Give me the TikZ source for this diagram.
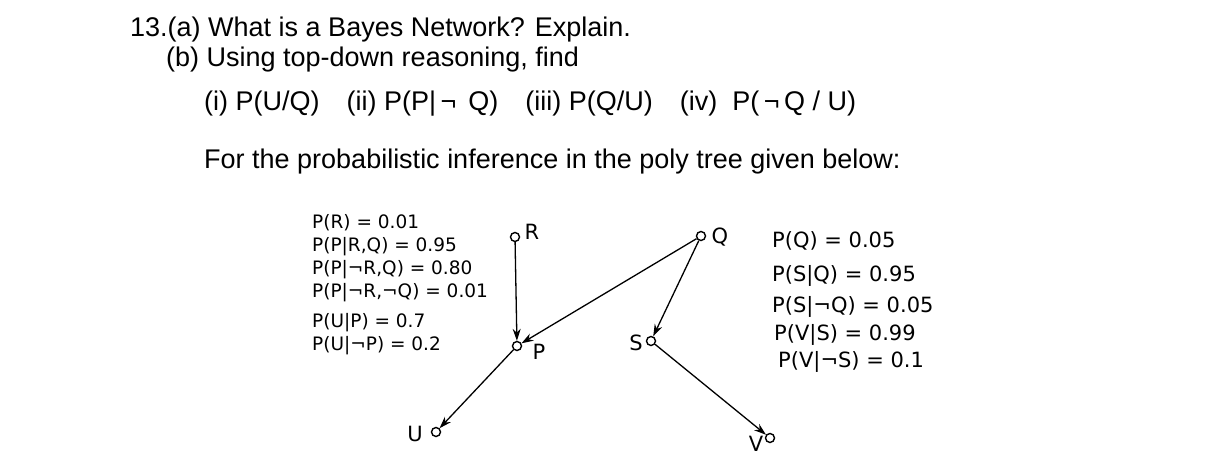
\documentclass[tikz,border=0pt]{standalone}
\usepackage{fontspec}
\setmainfont{Liberation Sans}
\newfontfamily\hand{DejaVu Sans}
\usetikzlibrary{arrows.meta}
\begin{document}
\begin{tikzpicture}[x=1pt,y=-1pt,
  hdr/.style={anchor=west,inner sep=0pt,font=\fontsize{27}{32}\selectfont},
  prob/.style={anchor=west,inner sep=0pt,font=\hand\fontsize{18.5}{22}\selectfont},
  probr/.style={anchor=west,inner sep=0pt,font=\hand\fontsize{21}{24}\selectfont},
  lbl/.style={inner sep=0pt,font=\hand\fontsize{21}{24}\selectfont},
  vtx/.style={circle,draw,line width=1.4pt,minimum size=9pt,inner sep=0pt},
  edge/.style={line width=1.3pt,-{Stealth[length=12pt,width=8pt]}}]
\useasboundingbox[fill=white] (0,0) rectangle (1208,466);
\node[hdr] (h1) at (130,30) {13.(a) What is a Bayes Network? Explain.};
\node[hdr] (h2) at (166,60) {(b) Using top-down reasoning, find};
\node[hdr] (h3) at (204,104) {(i) P(U/Q)\quad (ii) P(P|\,¬\,\ Q)\quad (iii) P(Q/U)\quad (iv)\ \ P(\,¬\,Q / U)};
\node[hdr] (h4) at (204,162) {For the probabilistic inference in the poly tree given below:};

\node[vtx] (R) at (515,237) {};
\node[vtx] (Q) at (701,236) {};
\node[vtx] (P) at (517,346) {};
\node[vtx] (S) at (651,341) {};
\node[vtx] (U) at (436,432) {};
\node[vtx] (V) at (770,438) {};
\node[lbl] (lR) at (532,232) {R};
\node[lbl] (lQ) at (720,237) {Q};
\node[lbl] (lP) at (539,352) {P};
\node[lbl] (lS) at (636,343) {S};
\node[lbl] (lU) at (415,434) {U};
\node[lbl] (lV) at (756,444) {V};

\draw[edge] (R) -- (P);
\draw[edge] (Q) -- (P);
\draw[edge] (Q) -- (S);
\draw[edge] (P) -- (U);
\draw[edge] (S) -- (V);

\node[prob] (t1) at (312,223) {P(R) = 0.01};
\node[prob] (t2) at (312,247) {P(P|R,Q) = 0.95};
\node[prob] (t3) at (312,270) {P(P|¬R,Q) = 0.80};
\node[prob] (t4) at (312,293) {P(P|¬R,¬Q) = 0.01};
\node[prob] (t5) at (312,323) {P(U|P) = 0.7};
\node[prob] (t6) at (312,346) {P(U|¬P) = 0.2};
\node[probr] (r1) at (772,241) {P(Q) = 0.05};
\node[probr] (r2) at (772,276) {P(S|Q) = 0.95};
\node[probr] (r3) at (772,307) {P(S|¬Q) = 0.05};
\node[probr] (r4) at (774,335) {P(V|S) = 0.99};
\node[probr] (r5) at (778,362) {P(V|¬S) = 0.1};
\end{tikzpicture}
\end{document}
